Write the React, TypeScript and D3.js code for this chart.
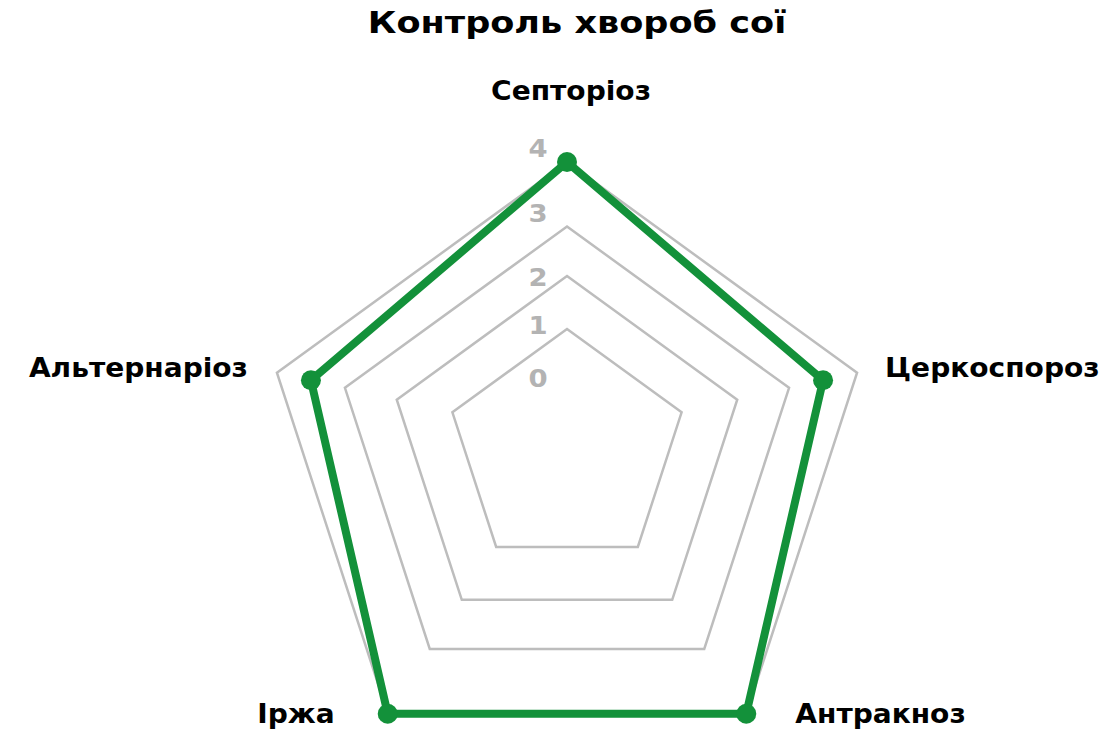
import React from 'react';
import * as d3 from 'd3';

const title = 'Контроль хвороб сої';
const categories = ['Септоріоз', 'Церкоспороз', 'Антракноз', 'Іржа', 'Альтернаріоз'];
const values = [4, 3.5, 4, 4, 3.5];
const gridLevels = [1, 2, 3, 4];
const tickValues = [0, 1, 2, 3, 4];
const tickLabels = ['0', '1', '2', '3', '4'];

const W = 1119;
const H = 743;
const CX = 567;
const FONT = '"DejaVu Sans", sans-serif';
const GREEN = '#13913a';
const GRID = '#bdbdbd';
const TICK = '#b3b3b3';

// the reference's rings are unevenly spaced and slightly shifted downward as they grow
const rScale = d3.scaleLinear().domain([1, 2, 3, 4]).range([120.5, 179, 233.5, 305]);
const cyScale = d3.scaleLinear().domain([1, 2, 3, 4]).range([449.5, 455, 460, 467]);
const tickY = d3.scaleLinear().domain([0, 1, 2, 3, 4]).range([378, 325, 277, 213, 148]);
const angleScale = d3.scaleLinear().domain([0, categories.length]).range([0, 2 * Math.PI]);

function pt(i: number, v: number): [number, number] {
  const a = angleScale(i);
  const r = rScale(v);
  return [CX + r * Math.sin(a), cyScale(v) - r * Math.cos(a)];
}

const closedLine = d3.line<[number, number]>().curve(d3.curveLinearClosed);

export default function App() {
  const maxV = d3.max(gridLevels) as number;
  const dataPts = values.map((v, i) => pt(i, v));
  return (
    <svg width={W} height={H} style={{ position: 'absolute', left: 0, top: 0, display: 'block', background: '#fff' }}>
      <g transform="translate(577,33) scale(1.17,1)">
        <text x={0} y={0} textAnchor="middle" fontFamily={FONT} fontWeight={700} fontSize={30} fill="#000">
          {title}
        </text>
      </g>
      <g>
        {gridLevels.map((lv) => (
          <path
            key={lv}
            d={closedLine(categories.map((_, i) => pt(i, lv))) as string}
            fill="none"
            stroke={GRID}
            strokeWidth={2.5}
          />
        ))}
      </g>
      <g>
        {tickValues.map((t, i) => (
          <g key={t} transform={`translate(538,${tickY(t)}) scale(1.1,1)`}>
            <text
              x={0}
              y={0}
              textAnchor="middle"
              dominantBaseline="central"
              fontFamily={FONT}
              fontWeight={700}
              fontSize={25}
              fill={TICK}
            >
              {tickLabels[i]}
            </text>
          </g>
        ))}
      </g>
      <path d={closedLine(dataPts) as string} fill="none" stroke={GREEN} strokeWidth={8} strokeLinejoin="round" />
      {dataPts.map(([x, y], i) => (
        <circle key={i} cx={x} cy={y} r={10} fill={GREEN} />
      ))}
      <g>
        {categories.map((c, i) => {
          const [x, y] = pt(i, maxV);
          const s = Math.sin(angleScale(i));
          const co = Math.cos(angleScale(i));
          let anchor = 'middle';
          let tx = x;
          let ty = y;
          if (co > 0.99) {
            ty = y - 62;
            tx = x + 4;
          } else if (Math.abs(s) > 0.9) {
            anchor = s > 0 ? 'start' : 'end';
            tx = x + (s > 0 ? 28 : -29);
            ty = y + 4;
          } else {
            anchor = s > 0 ? 'start' : 'end';
            tx = x + (s > 0 ? 49 : -53);
            ty = y + 9;
          }
          return (
            <g key={c} transform={`translate(${tx},${ty}) scale(1.08,1)`}>
              <text x={0} y={0} textAnchor={anchor} fontFamily={FONT} fontWeight={700} fontSize={26} fill="#000">
                {c}
              </text>
            </g>
          );
        })}
      </g>
    </svg>
  );
}
